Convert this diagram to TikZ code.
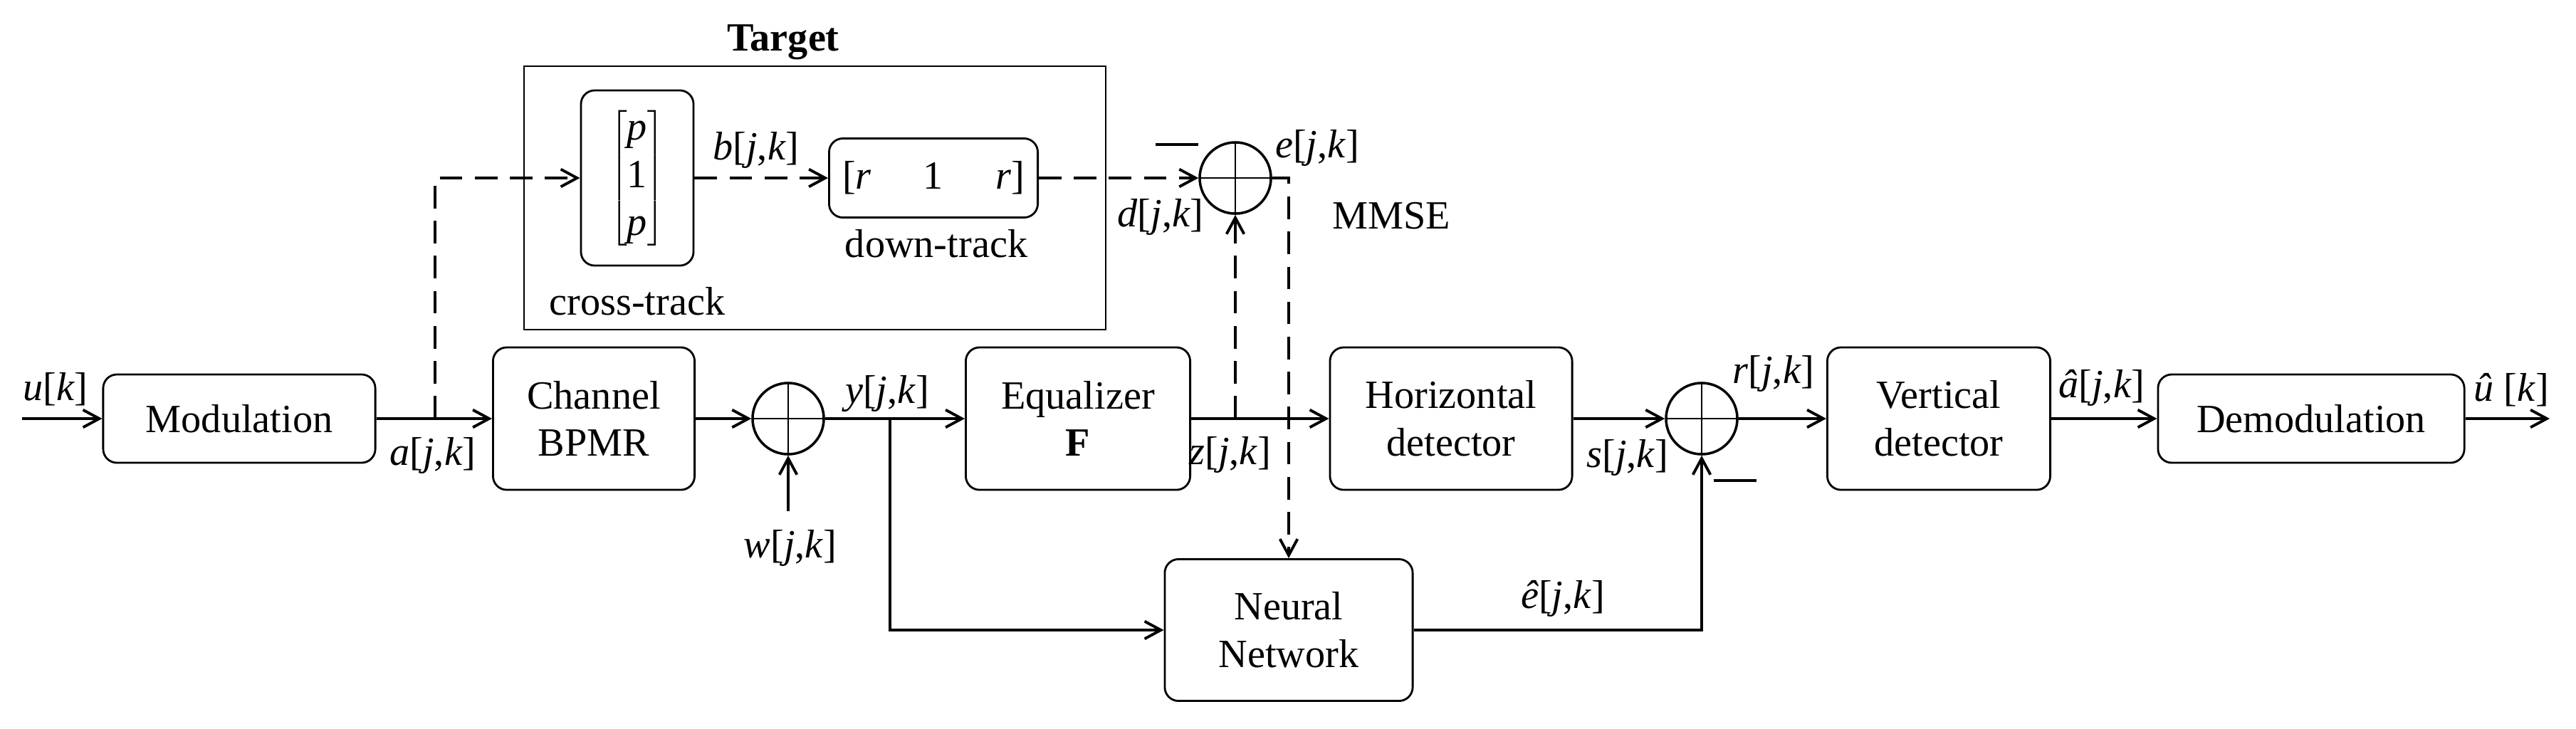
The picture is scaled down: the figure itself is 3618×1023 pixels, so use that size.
\documentclass[tikz,border=0pt]{standalone}
\usepackage{fontspec}
\setmainfont{Liberation Serif}
\usepackage{tikz}
\usetikzlibrary{positioning, arrows.meta, calc}

\begin{document}
\begin{tikzpicture}[x=0.01cm, y=-0.01cm, font=\fontsize{16}{19}\selectfont,
  blk/.style={draw, line width=0.8pt, rounded corners=5.5pt, align=center, inner sep=0pt},
  sumnode/.style={circle, draw, line width=1pt, minimum size=1cm, inner sep=0pt,
    path picture={\draw[line width=0.7pt] (path picture bounding box.north) -- (path picture bounding box.south)
      (path picture bounding box.west) -- (path picture bounding box.east);}},
  sig/.style={line width=1.1pt, -{Straight Barb[length=6.5pt,width=7pt]}},
  dsh/.style={sig, dash pattern=on 9pt off 5pt},
  lbl/.style={inner sep=0pt}]

\useasboundingbox (0,0) rectangle (3618,1023);

% main chain
\node[blk, minimum width=3.82cm, minimum height=1.24cm] (Mod) at (336,588) {Modulation};
\node[blk, minimum width=2.83cm, minimum height=2cm] (Chan) at (834,588) {Channel\\BPMR};
\node[sumnode] (Sum1) at (1107,588) {};
\node[blk, minimum width=3.15cm, minimum height=2cm] (Eq) at (1514,588) {Equalizer\\\textbf{F}};
\node[blk, minimum width=3.4cm, minimum height=2cm] (Hdet) at (2038,588) {Horizontal\\detector};
\node[sumnode] (Sum3) at (2390,588) {};
\node[blk, minimum width=3.13cm, minimum height=2cm] (Vdet) at (2723,588) {Vertical\\detector};
\node[blk, minimum width=4.3cm, minimum height=1.24cm] (Demod) at (3246,588) {Demodulation};
\node[blk, minimum width=3.48cm, minimum height=1.99cm] (NN) at (1810,885) {Neural\\Network};

% target
\draw[line width=0.6pt] (736,93) rectangle (1553,463);
\node[font=\fontsize{16}{19}\selectfont\bfseries] (Tgt) at (1100,59) {Target};
\node[blk, minimum width=1.58cm, minimum height=2.46cm] (Ct) at (895,250)
  {$\left[\begin{tabular}{@{}c@{}}\textit{p}\\1\\\textit{p}\end{tabular}\right]$};
\node[blk, minimum width=2.93cm, minimum height=1.11cm] (Dt) at (1311,250)
  {[\textit{r}\hspace{1.3em}1\hspace{1.3em}\textit{r}]};
\node (CtLbl) at (895,423) {cross-track};
\node (DtLbl) at (1315,342) {down-track};
\node[sumnode] (Sum2) at (1735,250) {};

\coordinate (In) at (31,588);
\coordinate (Out) at (3581,588);
\coordinate (Ab) at (611,588);
\coordinate (Yb) at (1250,588);
\coordinate (Zb) at (Sum2 |- Eq.east);
\coordinate (Win) at (1107,718);

\draw[sig] (In) -- (Mod.west);
\draw[sig] (Mod.east) -- (Chan.west);
\draw[sig] (Chan.east) -- (Sum1.west);
\draw[sig] (Win) -- (Sum1.south);
\draw[sig] (Sum1.east) -- (Eq.west);
\draw[sig] (Yb) |- (NN.west);
\draw[sig] (Eq.east) -- (Hdet.west);
\draw[sig] (Hdet.east) -- (Sum3.west);
\draw[sig] (NN.east) -| (Sum3.south);
\draw[sig] (Sum3.east) -- (Vdet.west);
\draw[sig] (Vdet.east) -- (Demod.west);
\draw[sig] (Demod.east) -- (Out);

% dashed target / error paths
\draw[dsh] (Ab) |- (Ct.west);
\draw[dsh] (Ct.east) -- (Dt.west);
\draw[dsh] (Dt.east) -- (Sum2.west);
\draw[dsh] (Zb) -- (Sum2.south);
\draw[dsh] (Sum2.east) -| (NN.north);

% minus signs
\draw[line width=1.4pt] (1623,203) -- (1683,203);
\draw[line width=1.4pt] (2407,675) -- (2467,675);

% labels
\node[lbl] (uk) at (78,547) {\textit{u}[\textit{k}]};
\node[lbl] (ajk) at (608,640) {\textit{a}[\textit{j},\textit{k}]};
\node[lbl] (bjk) at (1062,211) {\textit{b}[\textit{j},\textit{k}]};
\node[lbl] (wjk) at (1110,770) {\textit{w}[\textit{j},\textit{k}]};
\node[lbl] (yjk) at (1246,553) {\textit{y}[\textit{j},\textit{k}]};
\node[lbl] (zjk) at (1728,639) {\textit{z}[\textit{j},\textit{k}]};
\node[lbl] (djk) at (1630,305) {\textit{d}[\textit{j},\textit{k}]};
\node[lbl] (ejk) at (1850,208) {\textit{e}[\textit{j},\textit{k}]};
\node[lbl] (mmse) at (1954,303) {MMSE};
\node[lbl] (sjk) at (2286,643) {\textit{s}[\textit{j},\textit{k}]};
\node[lbl] (ehat) at (2195,841) {\textit{ê}[\textit{j},\textit{k}]};
\node[lbl] (rjk) at (2491,525) {\textit{r}[\textit{j},\textit{k}]};
\node[lbl] (ahat) at (2952,545) {\textit{â}[\textit{j},\textit{k}]};
\node[lbl] (uhat) at (3527,548) {\textit{û} [\textit{k}]};
\end{tikzpicture}
\end{document}
